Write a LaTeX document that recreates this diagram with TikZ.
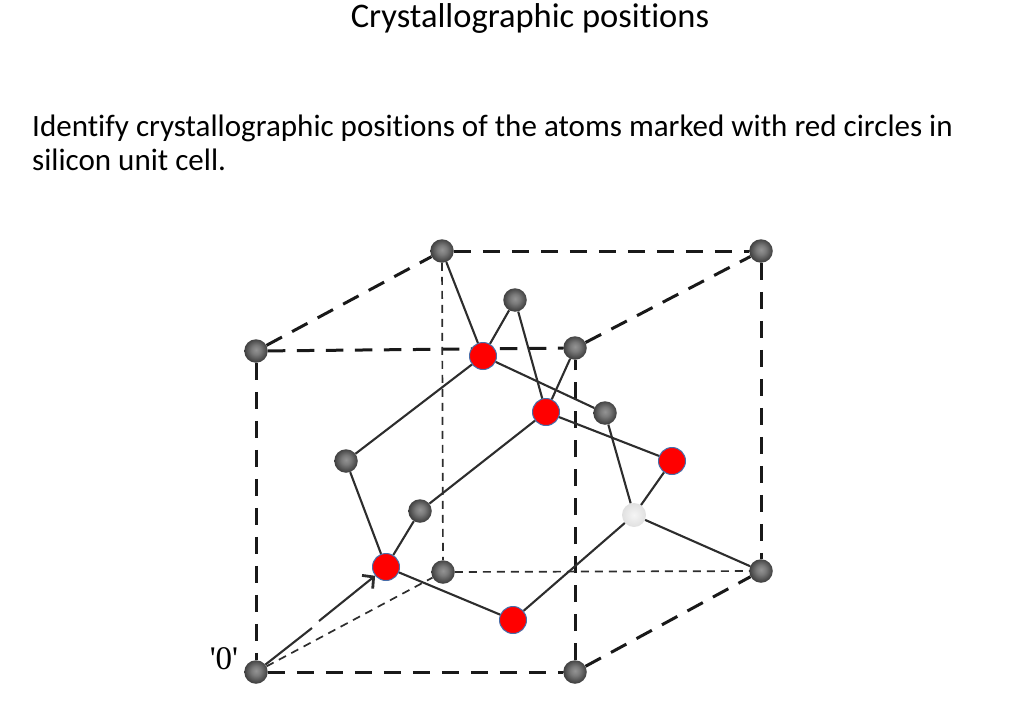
\documentclass[tikz,border=0pt]{standalone}
\usepackage{fontspec}
\setmainfont{Carlito}[Ligatures=NoCommon]
\newfontfamily\serifface{Liberation Serif}
\usetikzlibrary{arrows.meta}
\pgfdeclarelayer{behind}
\pgfsetlayers{behind,main}
\pgfdeclareradialshading{darkatom}{\pgfpoint{0bp}{3bp}}{color(0bp)=(black!42); color(10bp)=(black!52); color(28bp)=(black!80); color(50bp)=(black!98)}
\pgfdeclareradialshading{paleatom}{\pgfpoint{0bp}{0bp}}{color(0bp)=(black!4); color(25bp)=(black!12); color(50bp)=(black!30)}
\definecolor{redfill}{RGB}{255,0,0}
\definecolor{redrim}{RGB}{70,110,170}
\definecolor{inkdark}{RGB}{45,45,45}
\tikzset{
  atomdark/.style={circle,inner sep=0pt,minimum size=23.5pt,shading=darkatom},
  atompale/.style={circle,inner sep=0pt,minimum size=24pt,shading=paleatom},
  atomred/.style={circle,inner sep=0pt,minimum size=27pt,fill=redfill,draw=redrim,line width=1pt},
  boxthick/.style={line width=3pt,black!90,dash pattern=on 17.5pt off 11.5pt},
  boxthin/.style={line width=1.7pt,inkdark,dash pattern=on 8pt off 6pt},
  bond/.style={line width=2.1pt,inkdark},
  textline/.style={inner sep=0pt,anchor=base west,font=\fontsize{31.05pt}{32pt}\selectfont}
}
\begin{document}
\begin{tikzpicture}[x=1pt,y=-1pt]
\useasboundingbox (0,0) rectangle (1017,709);
\node[inner sep=0pt,anchor=base,font=\fontsize{34.5pt}{35pt}\selectfont] (title) at (530,28) {Crystallographic positions};
\node[textline] (lineone) at (32,136) {Identify crystallographic positions of the atoms marked with red circles in};
\node[textline] (linetwo) at (32,170) {silicon unit cell.};
\node[inner sep=0pt,font=\serifface\fontsize{33pt}{33pt}\selectfont] (origlabel) at (224,659) {'0'};

% corner atoms
\node[atomdark] (o) at (256,672) {};
\node[atomdark] (b) at (575,672) {};
\node[atomdark] (c) at (761,571) {};
\node[atomdark] (d) at (443,572) {};
\node[atomdark] (e) at (256,351) {};
\node[atomdark] (f) at (575,348) {};
\node[atomdark] (g) at (761,251) {};
\node[atomdark] (h) at (442,251) {};
% inner atoms
\node[atomdark] (i1) at (515,300) {};
\node[atomdark] (i2) at (605,413) {};
\node[atomdark] (i3) at (346,461) {};
\node[atomdark] (i4) at (420,511) {};
\node[atompale] (w) at (634,515) {};
% red atoms
\node[atomred] (r1) at (483,356) {};
\node[atomred] (r2) at (546,412) {};
\node[atomred] (r3) at (672,461) {};
\node[atomred] (r4) at (386,567) {};
\node[atomred] (r5) at (513,620) {};

\begin{pgfonlayer}{behind}
\draw[boxthick] (e) -- (o);
\draw[boxthick] (o) -- (b);
\draw[boxthick] (b) -- (f);
\draw[boxthick] (e) -- (f);
\draw[boxthick] (e) -- (h);
\draw[boxthick] (h) -- (g);
\draw[boxthick] (f) -- (g);
\draw[boxthick] (g) -- (c);
\draw[boxthick] (b) -- (c);
\draw[boxthin] (h) -- (d);
\draw[boxthin] (d) -- (c);
\draw[boxthin] (o) -- (d);
\end{pgfonlayer}

\draw[bond] (h) -- (r1);
\draw[bond] (i1) -- (r1);
\draw[bond] (i3) -- (r1);
\draw[bond] (r1) -- (i2);
\draw[bond] (i1) -- (r2);
\draw[bond] (f) -- (r2);
\draw[bond] (i4) -- (r2);
\draw[bond] (r2) -- (r3);
\draw[bond] (i2) -- (w);
\draw[bond] (r3) -- (w);
\draw[bond] (w) -- (c);
\draw[bond] (w) -- (r5);
\draw[bond] (i3) -- (r4);
\draw[bond] (i4) -- (r4);
\draw[bond] (r4) -- (r5);

\coordinate (gapa) at (312,628);
\coordinate (gapb) at (319,621);
\draw[bond] (o) -- (gapa);
\draw[bond,-{Straight Barb[length=8pt,width=17pt,line width=2.8pt]}] (gapb) -- (r4);
\end{tikzpicture}
\end{document}
